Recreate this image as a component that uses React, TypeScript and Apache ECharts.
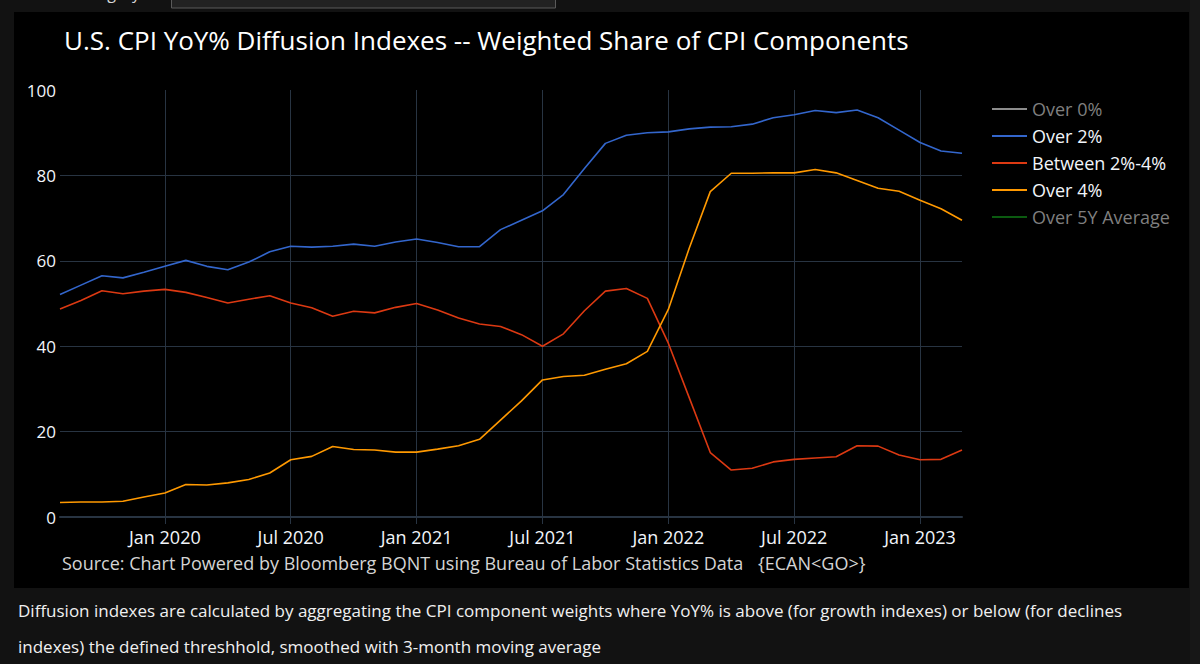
import React, { useEffect, useRef } from "react";
import * as echarts from "echarts";

// Monthly observations, Aug 2019 – Mar 2023
const months: string[] = [
  "2019-08", "2019-09", "2019-10", "2019-11", "2019-12",
  "2020-01", "2020-02", "2020-03", "2020-04", "2020-05", "2020-06",
  "2020-07", "2020-08", "2020-09", "2020-10", "2020-11", "2020-12",
  "2021-01", "2021-02", "2021-03", "2021-04", "2021-05", "2021-06",
  "2021-07", "2021-08", "2021-09", "2021-10", "2021-11", "2021-12",
  "2022-01", "2022-02", "2022-03", "2022-04", "2022-05", "2022-06",
  "2022-07", "2022-08", "2022-09", "2022-10", "2022-11", "2022-12",
  "2023-01", "2023-02", "2023-03",
];

// Weighted share of CPI components (%), 3-month moving average
const over2: number[] = [
  52.1, 54.3, 56.5, 56.0, 57.3, 58.7, 60.1, 58.7, 57.9, 59.7, 62.1,
  63.4, 63.2, 63.4, 63.9, 63.4, 64.4, 65.1, 64.3, 63.3, 63.3, 67.3,
  69.5, 71.7, 75.5, 81.6, 87.5, 89.4, 90.0, 90.2, 90.9, 91.3, 91.4,
  92.0, 93.5, 94.2, 95.2, 94.7, 95.3, 93.5, 90.6, 87.7, 85.7, 85.2,
];

const between2and4: number[] = [
  48.7, 50.7, 53.0, 52.3, 52.9, 53.3, 52.6, 51.4, 50.1, 51.0, 51.8,
  50.1, 49.0, 47.0, 48.2, 47.8, 49.1, 50.0, 48.5, 46.6, 45.2, 44.6,
  42.7, 40.0, 42.9, 48.3, 52.9, 53.5, 51.2, 40.7, 27.9, 15.1, 11.0,
  11.4, 12.9, 13.5, 13.8, 14.1, 16.7, 16.6, 14.5, 13.4, 13.5, 15.7,
];

const over4: number[] = [
  3.4, 3.5, 3.5, 3.7, 4.7, 5.6, 7.6, 7.5, 8.0, 8.8, 10.3,
  13.4, 14.2, 16.5, 15.8, 15.7, 15.2, 15.2, 15.9, 16.7, 18.2, 22.7,
  27.2, 32.1, 32.9, 33.2, 34.6, 35.9, 38.8, 48.6, 63.0, 76.2, 80.5,
  80.5, 80.6, 80.6, 81.4, 80.6, 78.8, 77.0, 76.3, 74.2, 72.2, 69.5,
];

const yTicks: number[] = [0, 20, 40, 60, 80, 100];

const MONTH_NAMES = ["Jan", "Feb", "Mar", "Apr", "May", "Jun", "Jul", "Aug", "Sep", "Oct", "Nov", "Dec"];

const FONT = "'Open Sans', 'Noto Sans', sans-serif";
const GRID = "#283442";
const TEXT = "#f2f5fa";
const DIM = "#7f7f7f";

const isHalfYear = (idx: number) => {
  const m = months[idx].slice(5);
  return m === "01" || m === "07";
};

const monthLabel = (v: string) => {
  const [y, m] = v.split("-");
  return `${MONTH_NAMES[Number(m) - 1]} ${y}`;
};

export default function App() {
  const ref = useRef<HTMLDivElement>(null);

  useEffect(() => {
    if (!ref.current) return;
    const chart = echarts.init(ref.current, undefined, { renderer: "svg" });

    const option: echarts.EChartsOption = {
      animation: false,
      backgroundColor: "#121212",
      textStyle: { fontFamily: FONT },
      title: {
        text: "U.S. CPI YoY% Diffusion Indexes -- Weighted Share of CPI Components",
        left: 64,
        top: 27,
        padding: 0,
        textStyle: { color: "#ffffff", fontSize: 26, fontWeight: "normal", fontFamily: FONT },
      },
      legend: {
        orient: "vertical",
        left: 991,
        top: 99,
        padding: 0,
        itemWidth: 35,
        itemHeight: 20,
        itemGap: 7,
        // line-only legend keys: hide the marker drawn in the middle of the line
        itemStyle: { opacity: 0 },
        textStyle: { color: TEXT, fontSize: 18, lineHeight: 20, fontFamily: FONT },
        data: [
          { name: "Over 0%", textStyle: { color: DIM } },
          { name: "Over 2%" },
          { name: "Between 2%-4%" },
          { name: "Over 4%" },
          { name: "Over 5Y Average", textStyle: { color: DIM } },
        ],
      },
      grid: { left: 60, right: 238, top: 90, bottom: 147, containLabel: false },
      xAxis: {
        type: "category",
        data: months,
        boundaryGap: false,
        axisLine: { show: true, lineStyle: { color: GRID, width: 2 } },
        axisTick: {
          show: true,
          length: 7,
          interval: (i: number) => isHalfYear(i),
          lineStyle: { color: GRID, width: 1 },
        },
        axisLabel: {
          interval: (i: number) => isHalfYear(i),
          formatter: (v: string) => monthLabel(v),
          color: TEXT,
          fontSize: 18,
          margin: 11,
          fontFamily: FONT,
        },
        splitLine: {
          show: true,
          interval: (i: number) => isHalfYear(i),
          lineStyle: { color: GRID, width: 1 },
        },
      },
      yAxis: {
        type: "value",
        min: yTicks[0],
        max: yTicks[yTicks.length - 1],
        interval: 20,
        axisLine: { show: false },
        axisTick: { show: false },
        axisLabel: { color: TEXT, fontSize: 17, margin: 4, fontFamily: FONT },
        splitLine: {
          show: true,
          lineStyle: {
            color: yTicks.map((t) => (t === 100 ? "rgba(0,0,0,0)" : GRID)),
            width: 1,
          },
        },
      },
      series: [
        { name: "Over 0%", type: "line", data: [], symbol: "none", color: "#8c8c8c", lineStyle: { width: 2 } },
        { name: "Over 2%", type: "line", data: over2, symbol: "none", color: "#3366cc", lineStyle: { width: 1.6 } },
        { name: "Between 2%-4%", type: "line", data: between2and4, symbol: "none", color: "#dc3912", lineStyle: { width: 1.6 } },
        { name: "Over 4%", type: "line", data: over4, symbol: "none", color: "#ff9900", lineStyle: { width: 1.6 } },
        { name: "Over 5Y Average", type: "line", data: [], symbol: "none", color: "#0b5a10", lineStyle: { width: 2 } },
      ],
      graphic: [
        // black chart panel
        { type: "rect", z: -100, silent: true, shape: { x: 14, y: 12, width: 1175, height: 576 }, style: { fill: "#000000" } },
        // right-hand strip
        { type: "rect", z: -100, silent: true, shape: { x: 1190, y: 0, width: 10, height: 664 }, style: { fill: "#171717" } },
        // input box above the panel
        {
          type: "rect",
          z: -100,
          silent: true,
          shape: { x: 171.5, y: -4, width: 384, height: 12 },
          style: { fill: "#222222", stroke: "#5a5a5a", lineWidth: 1 },
        },
        {
          type: "text",
          silent: true,
          style: {
            x: 140,
            y: 1,
            text: "Category",
            align: "right",
            verticalAlign: "bottom",
            fill: "#d8d8d8",
            font: `16px ${FONT}`,
          },
        },
        {
          type: "text",
          silent: true,
          style: {
            x: 62,
            y: 563,
            text: "Source: Chart Powered by Bloomberg BQNT using Bureau of Labor Statistics Data",
            verticalAlign: "middle",
            fill: "#d4d4d4",
            font: `18px ${FONT}`,
          },
        },
        {
          type: "text",
          silent: true,
          style: {
            x: 758,
            y: 563,
            text: "{ECAN<GO>}",
            verticalAlign: "middle",
            fill: "#d4d4d4",
            font: `18px ${FONT}`,
          },
        },
        {
          type: "text",
          silent: true,
          style: {
            x: 18,
            y: 610,
            text: "Diffusion indexes are calculated by aggregating the CPI component weights where YoY% is above (for growth indexes) or below (for declines",
            verticalAlign: "middle",
            fill: "#f0f0f0",
            font: `17px ${FONT}`,
          },
        },
        {
          type: "text",
          silent: true,
          style: {
            x: 18,
            y: 646,
            text: "indexes) the defined threshhold, smoothed with 3-month moving average",
            verticalAlign: "middle",
            fill: "#f0f0f0",
            font: `17px ${FONT}`,
          },
        },
      ],
    };

    chart.setOption(option);
    return () => chart.dispose();
  }, []);

  return (
    <div style={{ position: "fixed", left: 0, top: 0, width: 1200, height: 664, background: "#121212" }}>
      <div ref={ref} style={{ width: 1200, height: 664 }} />
    </div>
  );
}
